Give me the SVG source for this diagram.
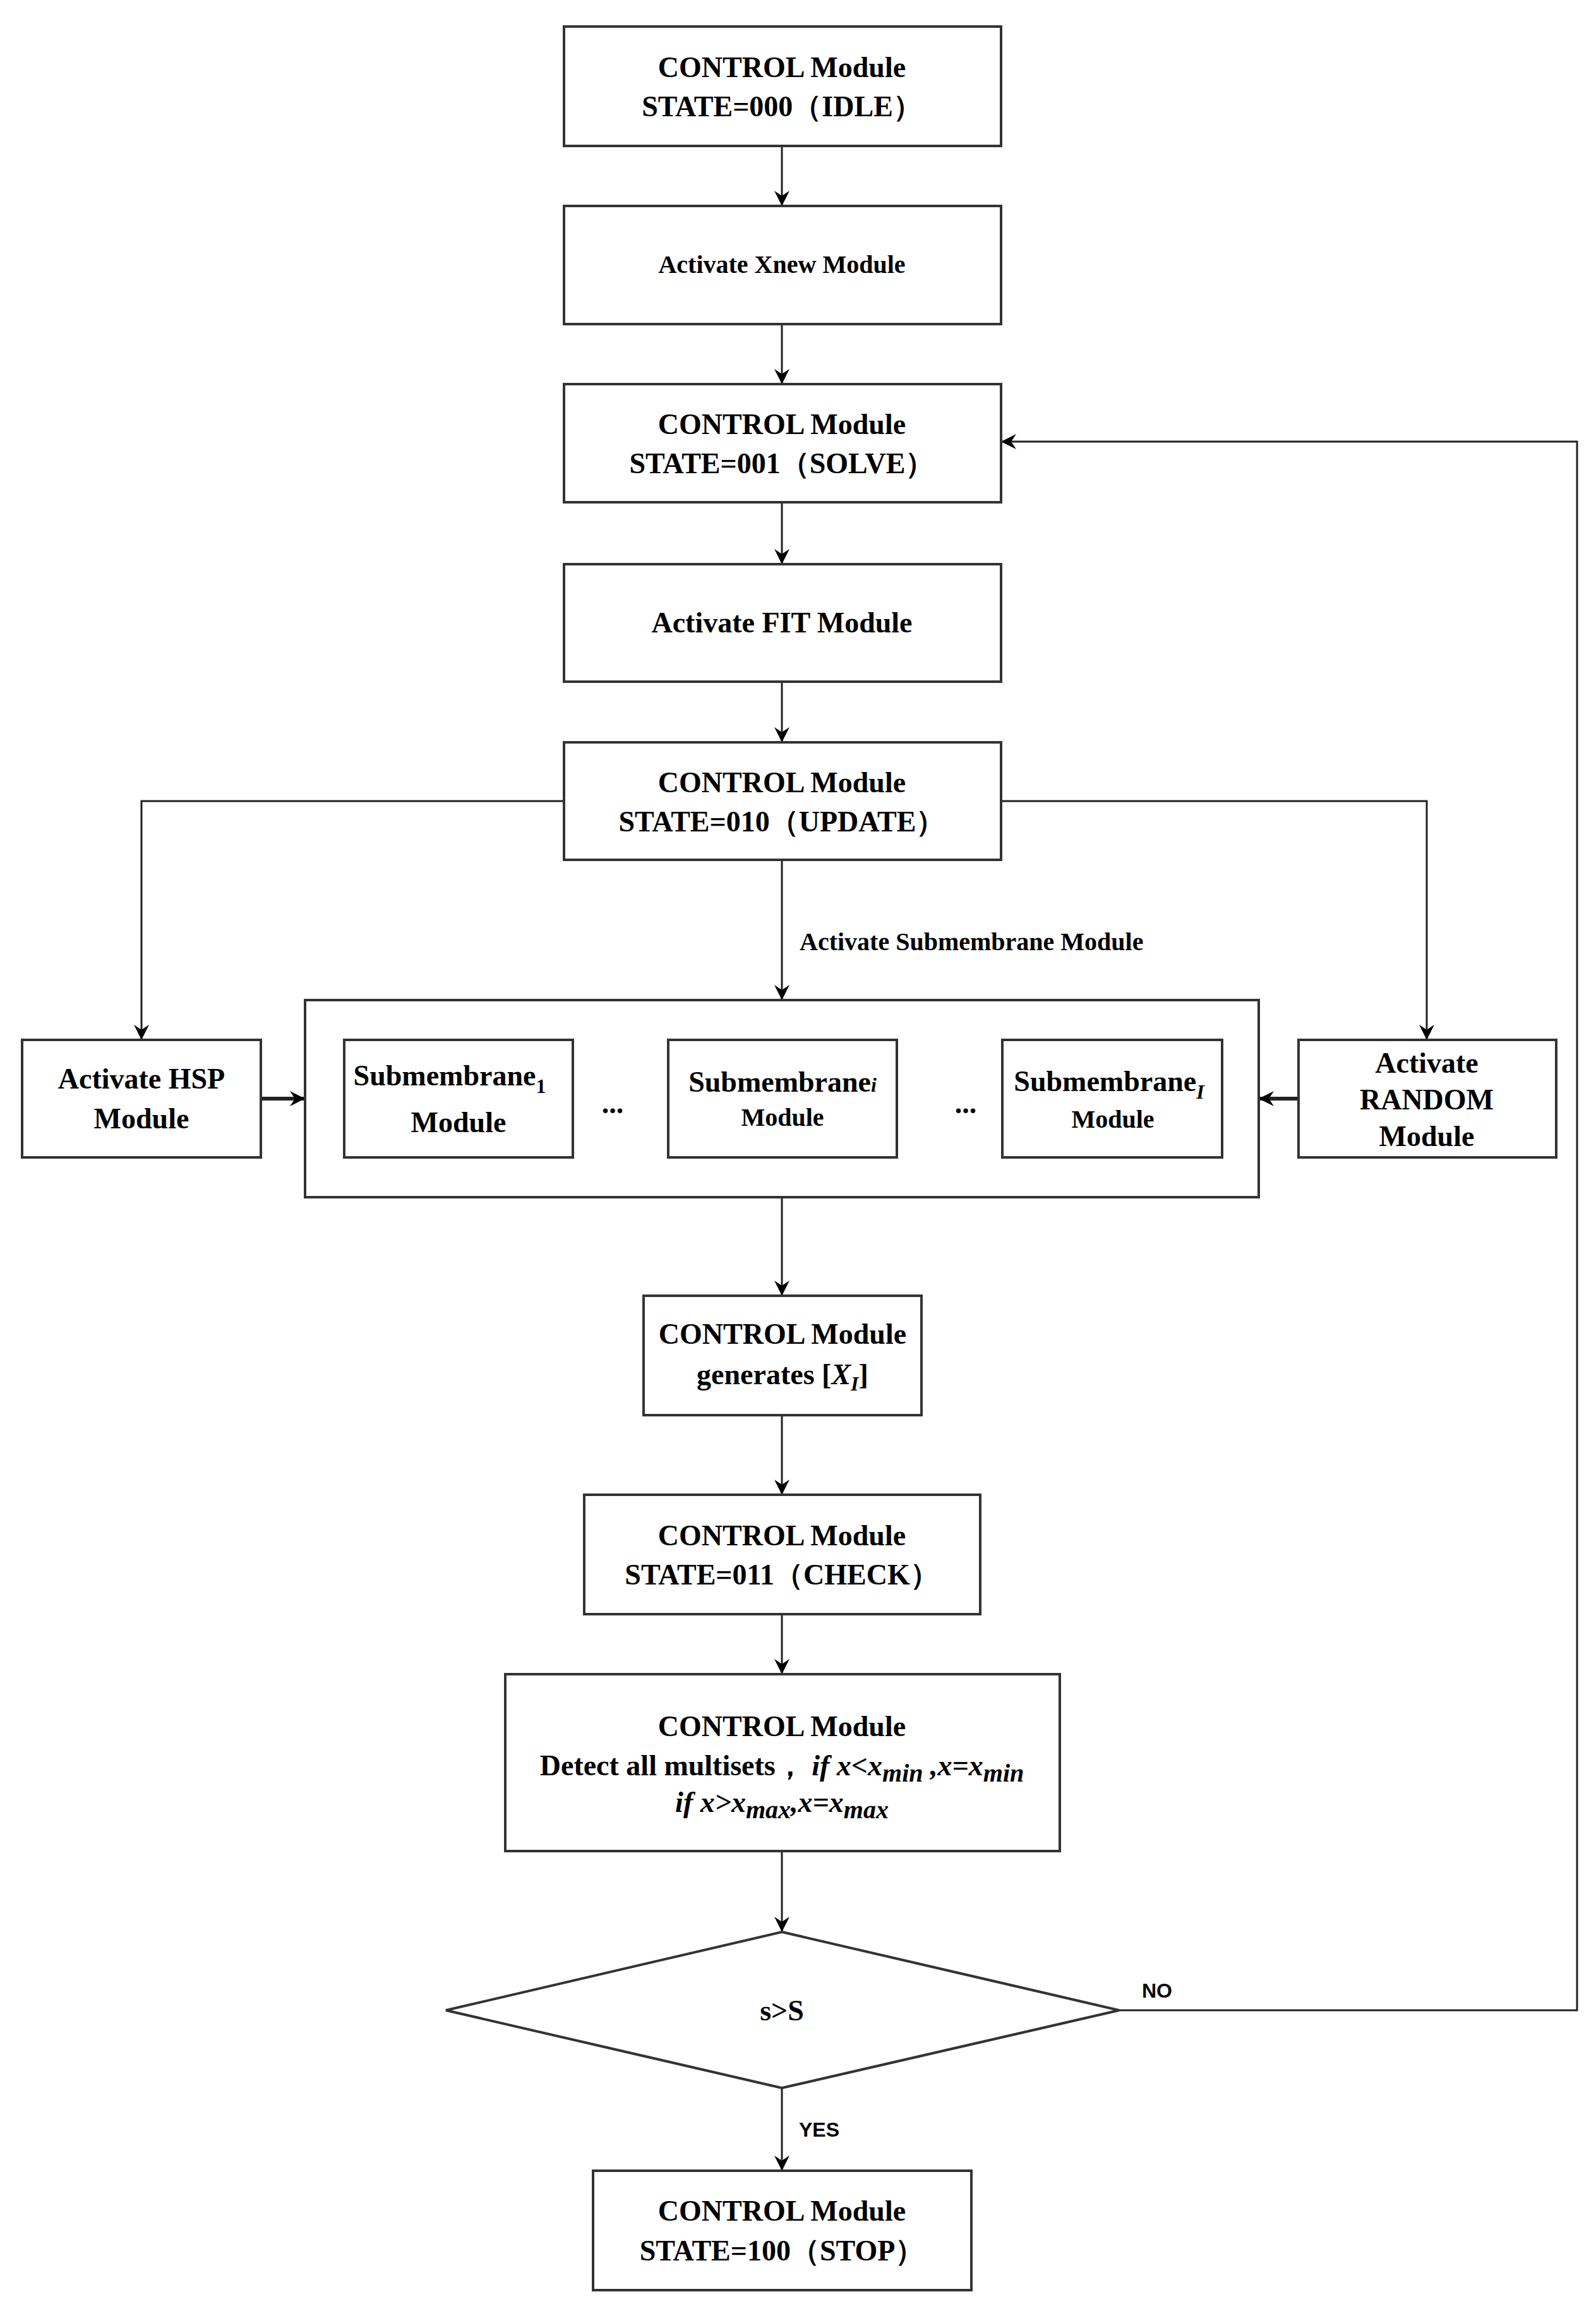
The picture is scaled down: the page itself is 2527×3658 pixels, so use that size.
<svg xmlns="http://www.w3.org/2000/svg" width="2527" height="3658" viewBox="0 0 2527 3658">
<style>
.b{fill:#fff;stroke:#333;stroke-width:4}
text{font-family:"Liberation Serif","Times New Roman",serif;font-weight:bold;font-size:46px;fill:#000;text-anchor:middle}
.s{font-size:40px}
.l{font-family:"Liberation Sans",Arial,sans-serif;font-size:32px;text-anchor:start}
.t{font-size:40px;text-anchor:start}
.c{fill:none;stroke:#222;stroke-width:3}
</style>
<defs>
<marker id="A" markerWidth="24" markerHeight="24" refX="22" refY="12" orient="auto" markerUnits="userSpaceOnUse" viewBox="0 0 24 24"><path d="M0,0 L24,12 L0,24 L8,12 z" fill="#000"/></marker></defs>
<g id="connectors" class="c">
<path d="M1238 231V324" marker-end="url(#A)"/>
<path d="M1238 513V606" marker-end="url(#A)"/>
<path d="M1238 795V891" marker-end="url(#A)"/>
<path d="M1238 1079V1173" marker-end="url(#A)"/>
<path d="M1238 1361V1581" marker-end="url(#A)"/>
<path d="M893 1268H224V1644" marker-end="url(#A)"/>
<path d="M1585 1268H2259V1644" marker-end="url(#A)"/>
<path d="M413 1739H481" marker-end="url(#A)" stroke-width="6"/>
<path d="M2056 1739H1995" marker-end="url(#A)" stroke-width="6"/>
<path d="M1238 1895V2049" marker-end="url(#A)"/>
<path d="M1238 2240V2364" marker-end="url(#A)"/>
<path d="M1238 2555V2648" marker-end="url(#A)"/>
<path d="M1238 2930V3056" marker-end="url(#A)"/>
<path d="M1238 3305V3434" marker-end="url(#A)"/>
<path d="M1772 3182H2497V699H1587" marker-end="url(#A)"/>
</g>
<text class="t" x="1266" y="1504">Activate Submembrane Module</text>
<text class="l" x="1808" y="3162">NO</text>
<text class="l" x="1265" y="3382">YES</text>
<g id="n1"><rect class="b" x="893" y="42" width="692" height="189"/><text x="1238" y="122">CONTROL Module</text><text x="1238" y="184">STATE=000（IDLE）</text></g>
<g id="n2"><rect class="b" x="893" y="326" width="692" height="187"/><text class="s" x="1238" y="432">Activate Xnew Module</text></g>
<g id="n3"><rect class="b" x="893" y="608" width="692" height="187"/><text x="1238" y="687">CONTROL Module</text><text x="1238" y="749">STATE=001（SOLVE）</text></g>
<g id="n4"><rect class="b" x="893" y="893" width="692" height="186"/><text x="1238" y="1001">Activate FIT Module</text></g>
<g id="n5"><rect class="b" x="893" y="1175" width="692" height="186"/><text x="1238" y="1254">CONTROL Module</text><text x="1238" y="1316">STATE=010（UPDATE）</text></g>
<g id="container"><rect class="b" x="483" y="1583" width="1510" height="312"/>
<text x="970" y="1762">...</text><text x="1529" y="1762">...</text></g>
<g id="hsp"><rect class="b" x="35" y="1646" width="378" height="186"/><text x="224" y="1723">Activate HSP</text><text x="224" y="1786">Module</text></g>
<g id="sub1"><rect class="b" x="545" y="1646" width="362" height="186"/><text x="712" y="1718">Submembrane<tspan font-size="32" dy="12">1</tspan></text><text x="726" y="1792">Module</text></g>
<g id="subi"><rect class="b" x="1058" y="1646" width="362" height="186"/><text x="1239" y="1728">Submembrane<tspan font-style="italic" font-size="32">i</tspan></text><text class="s" x="1239" y="1782">Module</text></g>
<g id="subI"><rect class="b" x="1587" y="1646" width="348" height="186"/><text x="1756" y="1727">Submembrane<tspan font-style="italic" font-size="32" dy="12">I</tspan></text><text class="s" x="1762" y="1785">Module</text></g>
<g id="random"><rect class="b" x="2056" y="1646" width="408" height="186"/><text x="2259" y="1698">Activate</text><text x="2259" y="1756">RANDOM</text><text x="2259" y="1814">Module</text></g>
<g id="n6"><rect class="b" x="1019" y="2051" width="440" height="189"/><text x="1239" y="2127">CONTROL Module</text><text x="1239" y="2191">generates [<tspan font-style="italic">X</tspan><tspan font-style="italic" font-size="32" dy="10">I</tspan><tspan dy="-10">]</tspan></text></g>
<g id="n7"><rect class="b" x="925" y="2366" width="627" height="189"/><text x="1238" y="2446">CONTROL Module</text><text x="1238" y="2508">STATE=011（CHECK）</text></g>
<g id="n8"><rect class="b" x="800" y="2650" width="878" height="280"/><text x="1238" y="2748">CONTROL Module</text>
<text x="1238" y="2810" font-size="48">Detect all multisets，<tspan font-style="italic"> if  x&lt;x<tspan font-size="40" dy="10">min</tspan><tspan dy="-10"> ,x=x</tspan><tspan font-size="40" dy="10">min</tspan></tspan></text>
<text x="1238" y="2868" font-style="italic" font-size="48">if  x&gt;x<tspan font-size="40" dy="10">max</tspan><tspan dy="-10">,x=x</tspan><tspan font-size="40" dy="10">max</tspan></text></g>
<g id="d"><path class="b" d="M1238 3058L1772 3182L1238 3305L706 3182Z"/><text x="1238" y="3198" font-size="44">s&gt;S</text></g>
<g id="n9"><rect class="b" x="939" y="3436" width="599" height="189"/><text x="1238" y="3515">CONTROL Module</text><text x="1238" y="3578">STATE=100（STOP）</text></g>
</svg>
